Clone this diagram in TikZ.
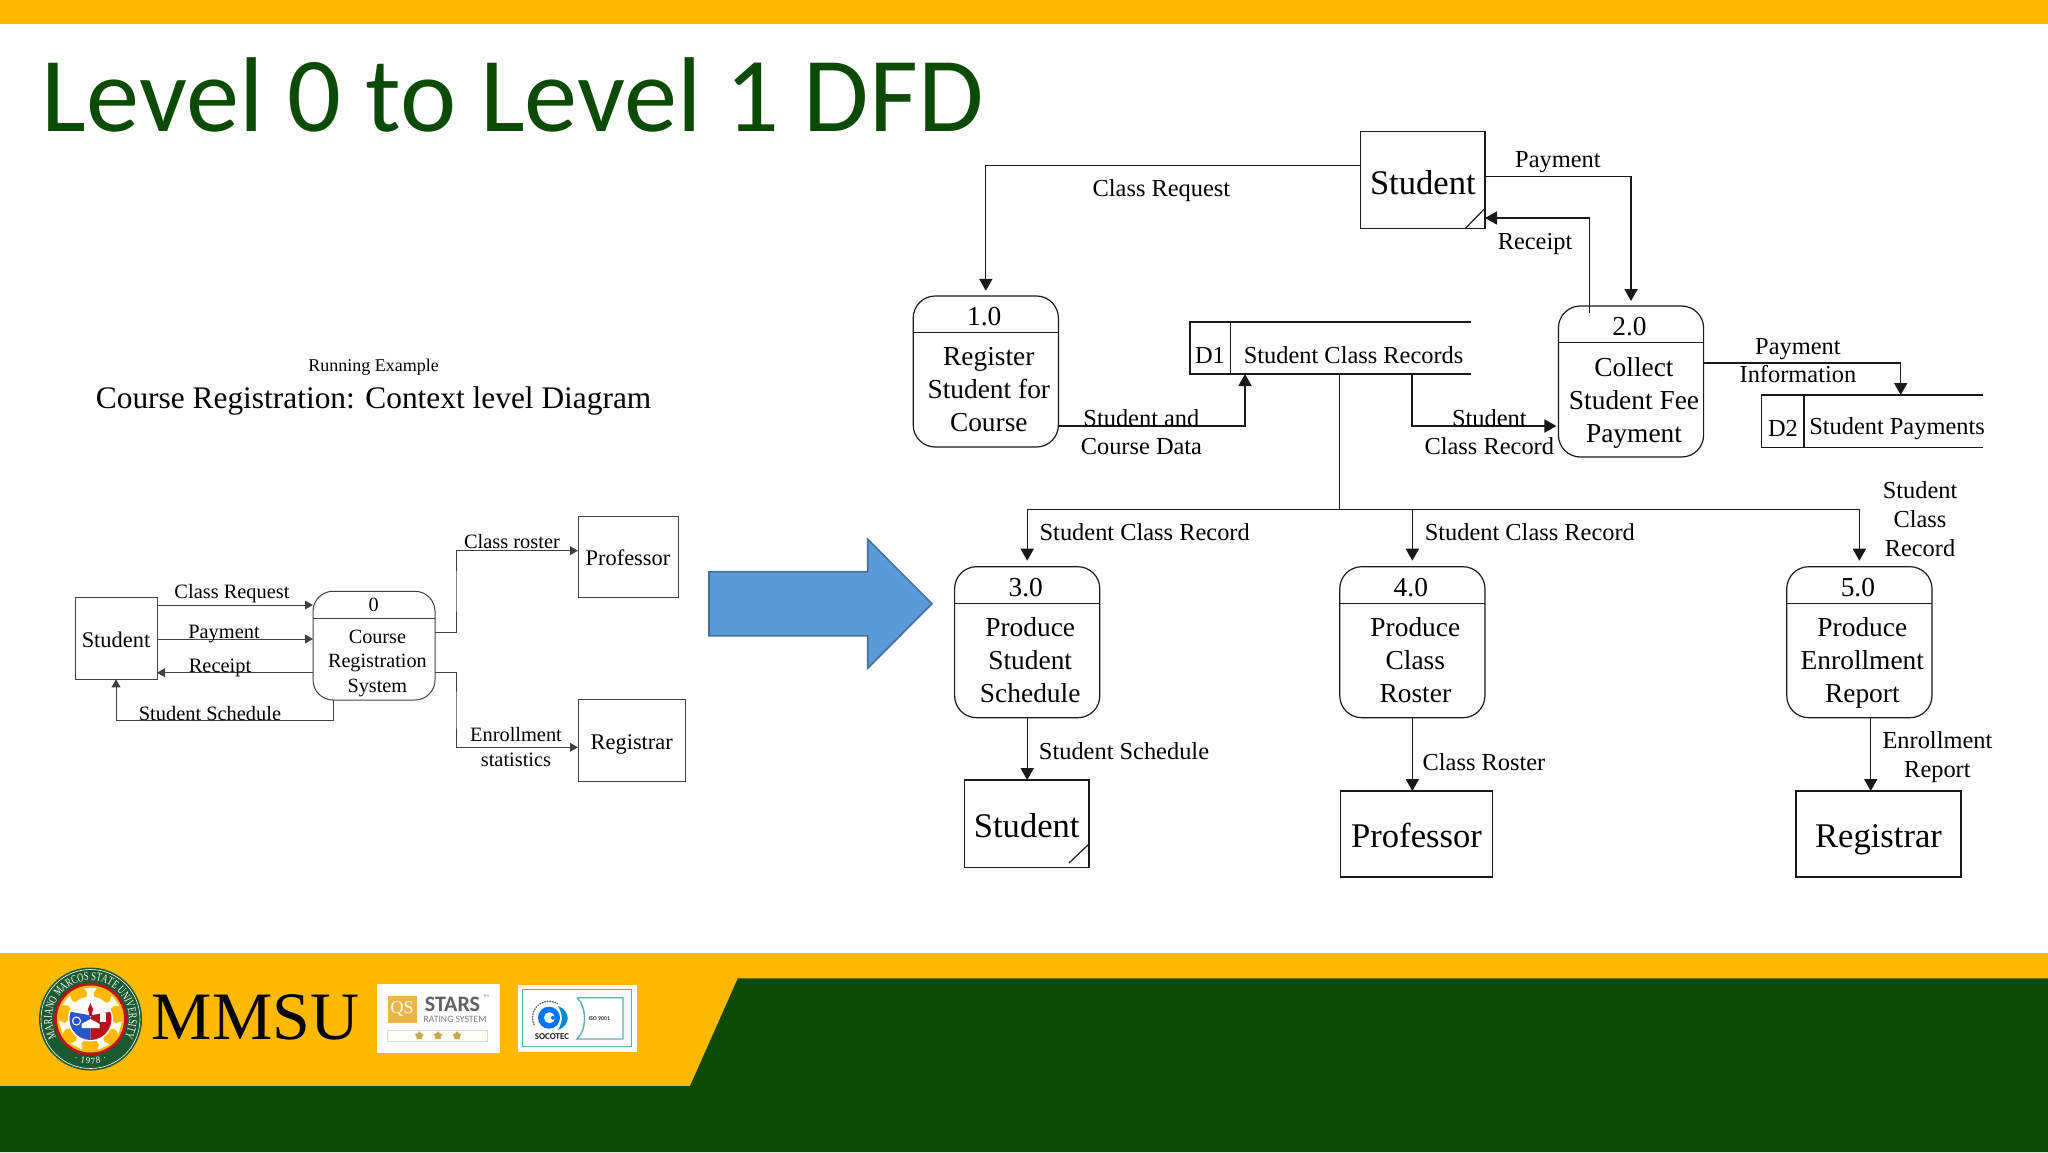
\documentclass[tikz,border=0pt]{standalone}
\usepackage{fontspec}
\setmainfont{Liberation Serif}
\newfontfamily\calibrifont{Carlito}
\newfontfamily\sealfont[FakeStretch=0.7]{Liberation Serif}
\usetikzlibrary{arrows.meta, positioning, calc, shapes.geometric, decorations.text}
\definecolor{mmsugold}{HTML}{FFB900}
\definecolor{mmsugreen}{HTML}{0C4B06}
\definecolor{sealgreen}{HTML}{1B5A30}
\definecolor{sealred}{HTML}{B8141E}
\definecolor{sealblue}{HTML}{2A55C8}
\definecolor{bluefill}{HTML}{5B9BD5}
\definecolor{blueline}{HTML}{41719C}
\definecolor{sococteal}{HTML}{62ABB8}
\definecolor{qsgold}{HTML}{EBB54A}
\definecolor{qsstar}{HTML}{C9A94F}
\tikzset{
  ctxline/.style={draw=black!75, line width=.5pt},
  ctxflow/.style={ctxline, -{Triangle[length=4pt,width=4.4pt]}},
  lvlline/.style={draw=black!90, line width=.6pt},
  lvlflow/.style={lvlline, -{Triangle[length=6pt,width=6.6pt]}},
  ctxbox/.style={ctxline, rectangle, inner sep=0, outer sep=0, text height=8.9pt, text depth=0pt, font=\fontsize{11.2}{12}\selectfont},
  lvlbox/.style={lvlline, rectangle, inner sep=0, outer sep=0, text height=13.8pt, text depth=0pt, font=\fontsize{17.3}{18}\selectfont},
  ctxlbl/.style={inner sep=0, align=center, font=\fontsize{10.2}{12.5}\selectfont},
  lvllbl/.style={inner sep=0, align=center, font=\fontsize{12.2}{14}\selectfont},
  proctxt/.style={inner sep=0, align=center, font=\fontsize{13.7}{16.5}\selectfont},
  procbox/.style={lvlline, rectangle, rounded corners=11pt, inner sep=0, outer sep=0, minimum width=72.6pt, minimum height=75.5pt},
  storebox/.style={rectangle, inner sep=0, outer sep=0},
}
\begin{document}
\begin{tikzpicture}[x=.5pt, y=-.5pt]
  \useasboundingbox (0,0) rectangle (2048,1152);
  \fill[mmsugold] (0,0) rectangle (2048,24);
  \node[anchor=base west, inner sep=0, text=mmsugreen, font=\calibrifont\fontsize{53.2}{54}\selectfont] (pagetitle) at (41.5,131.7) {Level 0 to Level 1 DFD};

  \fill[mmsugold] (0,953.3) rectangle (2048,1086);
  \fill[mmsugreen] (737.8,978.3) -- (2048,978.3) -- (2048,1152) -- (0,1152) -- (0,1086) -- (690,1086) -- cycle;

  \begin{scope}[shift={(90.5,1019)}, x=.5pt, y=.5pt]
    \fill[sealgreen] (0,0) circle[radius=51.5];
    \draw[white, line width=.3pt] (0,0) circle[radius=49.5];
    \fill[sealred] (0,0) circle[radius=36.5];
    \fill[mmsugold] (0,0) circle[radius=33.5];
    \foreach \a in {36,90,142,195,243,295,344}{
      \fill[white!92!yellow, shift={(\a:22)}, rotate=\a] (-5,-5) -- (4,-3) -- (9,-6.5) -- (9,6.5) -- (4,3) -- (-5,5) -- cycle;
    }
    \fill[white] (0,0) circle[radius=22.5];
    \fill[sealblue] (0,-21) arc[start angle=270, end angle=160, radius=21] -- (-2,4) -- (0,2) -- cycle;
    \fill[sealred] (0,-21) arc[start angle=-90, end angle=20, radius=21] -- (2,4) -- (0,2) -- cycle;
    \fill[sealred] (0,16) -- (2.5,10) -- (1.2,3) -- (-1.2,3) -- (-2.5,10) -- cycle;
    \fill[white] (-9,-5) -- (0,0) -- (9,-5) -- (9,-9) -- (-9,-9) -- cycle;
    \draw[white, line width=.5pt] (-14,-2) circle[radius=4];
    \fill[white] (9,-3) rectangle (15,6);
    \path[decorate, decoration={text along path, text align=center, text={|\sealfont\fontsize{6}{7}\selectfont\color{white}|MARIANO MARCOS STATE UNIVERSITY}}] (226:38.5) arc[start angle=226, end angle=-46, radius=38.5];
    \path[decorate, decoration={text along path, text align=fit to path, text={|\fontsize{4.6}{6}\selectfont\color{white}|· 1978 ·}}] (248:45) arc[start angle=248, end angle=292, radius=45];
  \end{scope}
  \node[inner sep=0, font=\fontsize{33.9}{36}\selectfont] (mmsu) at (255.5,1017) {MMSU};

  \node[rectangle, fill=white, inner sep=0, minimum width=61.7pt, minimum height=34.2pt] (qsbadge) at (438.35,1018.5) {};
  \node[rectangle, fill=qsgold, inner sep=0, minimum width=14.5pt, minimum height=13.5pt, text=white!90!yellow, font=\fontsize{9}{9}\selectfont] (qsmark) at (402.2,1009.2) {QS};
  \node[inner sep=0, text=black!62, font=\calibrifont\bfseries\fontsize{11}{11}\selectfont] (qsstars) at (452.5,1004.3) {STARS};
  \node[inner sep=0, text=black!62, font=\calibrifont\fontsize{2}{2}\selectfont] (qstm) at (486,996) {TM};
  \node[inner sep=0, text=black!50, font=\calibrifont\fontsize{4.85}{5}\selectfont] (qsrating) at (455.2,1019.3) {RATING SYSTEM};
  \node[rectangle, draw=black!15, fill=yellow!4, line width=.4pt, inner sep=0, minimum width=50pt, minimum height=5.4pt] (qsrow) at (437.7,1035.7) {};
  \foreach \n/\x in {a/419.3, b/438, c/457}{
    \node[star, star points=5, fill=qsstar, inner sep=0, minimum size=4.5pt] (qsstar\n) at (\x,1035.7) {};
  }

  \node[rectangle, fill=white, inner sep=0, minimum width=59.5pt, minimum height=33.3pt] (socobadge) at (577.2,1018.3) {};
  \node[rectangle, draw=sococteal, line width=.7pt, inner sep=0, minimum width=54.5pt, minimum height=28.5pt] (socoframe) at (577.2,1018.2) {};
  \draw[sococteal, line width=.7pt] (577,997.7) -- (623,997.7) -- (623,1039) -- (577,1039) .. controls (587,1030) and (587,1007) .. (577,997.7);
  \node[inner sep=0, text=black!80, font=\calibrifont\bfseries\fontsize{2.9}{3}\selectfont] (socoiso) at (599.3,1018.3) {ISO 9001};
  \node[inner sep=0, text=black!90, font=\calibrifont\bfseries\fontsize{4.5}{5}\selectfont] (socotxt) at (552,1036.3) {SOCOTEC};
  \fill[cyan!70!blue] (558,1006) .. controls (571,1011) and (571,1025) .. (558,1030) .. controls (563,1021) and (563,1015) .. (558,1006);
  \fill[blue!55!cyan] (549,1017.7) circle[radius=11];
  \fill[white] (549.5,1017.7) circle[radius=5.5];
  \fill[blue!55!cyan] (553,1017.7) circle[radius=2];
  \draw[black!60, line width=.7pt, line cap=round, dash pattern=on .4pt off .9pt] (549,1017.7) ++(-205:16.5) arc[start angle=-205, end angle=-55, radius=16.5];

  \fill[bluefill, draw=blueline, line width=.8pt] (709,571.7) -- (867.7,571.7) -- (867.7,539.3) -- (932,603.7) -- (867.7,668.3) -- (867.7,635.7) -- (709,635.7) -- cycle;

  \node[inner sep=0, font=\fontsize{9}{10}\selectfont] (ctxnote) at (373.6,367.4) {Running Example};
  \node[inner sep=0, font=\fontsize{15.7}{17}\selectfont] (ctxtitle) at (373.6,400.5) {Course Registration: Context level Diagram};
  \node[ctxbox, minimum width=41pt, minimum height=40.8pt] (stul) at (116,638.5) {Student};
  \node[ctxbox, minimum width=50pt, minimum height=40.7pt] (profl) at (628,557) {Professor};
  \node[ctxbox, minimum width=53.75pt, minimum height=40.8pt] (regl) at (631.75,740.5) {Registrar};
  \node[ctxline, rectangle, rounded corners=10pt, inner sep=0, outer sep=0, minimum width=61pt, minimum height=54.35pt] (p0) at (374,645.65) {};
  \draw[ctxline] (p0.west |- 0,618) -- (p0.east |- 0,618);
  \node[ctxlbl, font=\fontsize{10.1}{12.2}\selectfont] (p0num) at (373.6,605) {0};
  \node[ctxlbl, font=\fontsize{10.1}{12.2}\selectfont] (p0txt) at (377.4,663.2) {Course\\Registration\\System};

  \draw[ctxflow] (stul.east |- 0,605) -- (p0.west |- 0,605);
  \draw[ctxflow] (stul.east |- 0,639) -- (p0.west |- 0,639);
  \draw[ctxflow] (p0.west |- 0,672.7) -- (stul.east |- 0,672.7);
  \draw[ctxflow] (p0.south -| 333,0) |- (stul.south |- 0,720) -- (stul.south);
  \draw[ctxflow] (p0.east |- 0,632) -| (456,591) |- (profl.west |- 0,550.7);
  \draw[ctxflow] (p0.east |- 0,672.7) -| (456,710) |- (regl.west |- 0,747.3);
  \node[ctxlbl] (lblcreq) at (232,594) {Class Request};
  \node[ctxlbl] (lblpay) at (224,634.3) {Payment};
  \node[ctxlbl] (lblrcp) at (220,667.7) {Receipt};
  \node[ctxlbl] (lblsch) at (210,714) {Student Schedule};
  \node[ctxlbl] (lblros) at (512,541.7) {Class roster};
  \node[ctxlbl] (lblenr) at (516,747.5) {Enrollment\\statistics};

  \foreach \n/\x/\y/\txt in {1/985.8/296/{Register\\Student for\\Course}, 2/1631/306/{Collect\\Student Fee\\Payment}, 3/1027.2/566.7/{Produce\\Student\\Schedule}, 4/1412.35/566.7/{Produce\\Class\\Roster}, 5/1859.35/566.7/{Produce\\Enrollment\\Report}}{
    \node[procbox] (p\n) at (\x,\y+75.5) {};
    \draw[lvlline] (p\n.west |- 0,\y+36.7) -- (p\n.east |- 0,\y+36.7);
    \node[proctxt] (p\n num) at (\x-1.5,\y+20.5) {\n.0};
    \node[proctxt] (p\n txt) at (\x+3,\y+96.5) {\txt\vphantom{p}};
  }

  \node[lvlbox, minimum width=62.15pt, minimum height=48.5pt] (stua) at (1422.85,180.2) {Student};
  \node[lvlbox, minimum width=62.3pt, minimum height=43.65pt] (stub) at (1026.7,823.65) {Student};
  \node[lvlbox, minimum width=76.1pt, minimum height=43pt] (prof) at (1416.5,834) {Professor};
  \node[lvlbox, minimum width=82.5pt, minimum height=43pt] (regr) at (1878.5,834) {Registrar};
  \draw[lvlline] (stua.south east |- 0,208.3) -- (1465,228.7);
  \draw[lvlline] (stub.south east |- 0,844) -- (1069,863);

  \node[storebox, minimum width=140.35pt, minimum height=26pt] (d1) at (1330.35,348) {};
  \draw[lvlline] (d1.north east) -- (d1.north west) -- (d1.south west) -- (d1.south east);
  \draw[lvlline] (d1.north -| 1230.7,0) -- (d1.south -| 1230.7,0);
  \node[lvllbl] (d1id) at (1210,355) {D1};
  \node[lvllbl] (d1txt) at (1353.6,355) {Student Class Records};
  \node[storebox, minimum width=110.8pt, minimum height=26.15pt] (d2) at (1872.2,421.15) {};
  \draw[lvlline] (d2.north east) -- (d2.north west) -- (d2.south west) -- (d2.south east);
  \draw[lvlline] (d2.north -| 1804,0) -- (d2.south -| 1804,0);
  \node[lvllbl] (d2id) at (1783,428.5) {D2};
  \node[lvllbl] (d2txt) at (1897,429) {Student Payments};

  \coordinate (rcpt) at (1589.3,312.7);
  \coordinate (bus) at (1339.7,509.7);
  \draw[lvlflow, shorten >=2.6pt] (stua.west |- 0,165.3) -| (p1.north);
  \draw[lvlflow, shorten >=2.5pt] (stua.east |- 0,176.7) -| (p2.north);
  \draw[lvlflow] (rcpt) |- (stua.east |- 0,218);
  \draw[lvlflow] (p1.east |- 0,426) -| (d1.south -| 1245,0);
  \draw[lvlflow, shorten >=1pt] (d1.south -| 1412,0) |- (p2.west |- 0,426);
  \draw[lvlflow] (p2.east |- 0,363) -| (d2.north -| 1900.7,0);
  \draw[lvlline] (d1.south -| bus) -- (bus);
  \draw[lvlflow, shorten >=3pt] (bus) -| (p3.north);
  \draw[lvlflow, shorten >=3pt] (bus) -| (p4.north);
  \draw[lvlflow, shorten >=3pt] (bus) -| (p5.north);
  \draw[lvlflow] (p3.south) -- (p3.south |- stub.north);
  \draw[lvlflow] (p4.south) -- (p4.south |- prof.north);
  \draw[lvlflow] (p5.south -| 1870.7,0) -- (regr.north -| 1870.7,0);

  \node[lvllbl] (lblclass) at (1161.4,191) {Class Request};
  \node[lvllbl] (lblpaya) at (1557.9,161.8) {Payment};
  \node[lvllbl] (lblrcpa) at (1535,243.7) {Receipt};
  \node[lvllbl] (lblscd) at (1141.4,432) {Student and\\Course Data};
  \node[lvllbl] (lblscr) at (1489.3,432) {Student\\Class Record};
  \node[lvllbl] (lblpinf) at (1797.9,361) {Payment\\Information};
  \node[lvllbl] (lblrec3) at (1144.7,532) {Student Class Record};
  \node[lvllbl] (lblrec4) at (1529.8,532) {Student Class Record};
  \node[lvllbl, font=\fontsize{12.2}{14.5}\selectfont] (lblrec5) at (1920,519.5) {Student\\Class\\Record};
  \node[lvllbl] (lblsch3) at (1124,751) {Student Schedule};
  \node[lvllbl] (lblros4) at (1484,762.3) {Class Roster};
  \node[lvllbl, font=\fontsize{12.2}{14.5}\selectfont] (lblenr5) at (1937.4,757.5) {Enrollment\\Report};
\end{tikzpicture}
\end{document}
